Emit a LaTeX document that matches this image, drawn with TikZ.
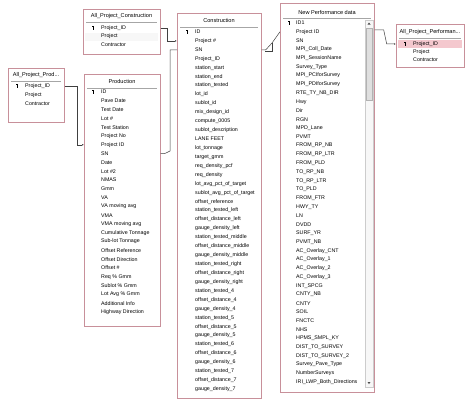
\documentclass[tikz,border=0pt]{standalone}
\usepackage{fontspec}
\setmainfont{Liberation Sans}
\usetikzlibrary{arrows.meta}
\definecolor{bord}{HTML}{C8909A}
\definecolor{hl}{HTML}{F4C8CE}
\tikzset{
  x=1pt,y=-1pt,
  tbox/.style={draw=bord,line width=0.7pt,fill=white},
  ttl/.style={font=\fontsize{5.6}{6.5}\selectfont,inner sep=0pt,anchor=center},
  row/.style={font=\fontsize{5.3}{6}\selectfont,inner sep=0pt,anchor=west},
  sep/.style={draw=gray!70,line width=0.5pt},
  conn/.style={draw=black!75,line width=0.5pt},
  tip/.style={-{Latex[length=2pt,width=1.6pt]}}
}
\newcommand{\keyat}[2]{\fill (#1-0.9,#2-2) rectangle (#1+0.9,#2-0.6); \draw[line width=0.5pt] (#1,#2-1) -- (#1,#2+2.2);}
\begin{document}
\begin{tikzpicture}
\useasboundingbox (0,0) rectangle (474,402);
% ---- All_Project_Prod
\node[tbox,minimum width=56pt,minimum height=54pt,anchor=north west,inner sep=0pt] (app) at (8,68) {};
\node[ttl] (appt) at (36,75) {All\_Project\_Prod...};
\draw[sep] (11,81) -- (61,81);
\foreach \t [count=\i from 0] in {Project\_ID,Project,Contractor}
  \node[row] (app\i) at (25,86+9*\i) {\t};
\keyat{17}{86}
% ---- All_Project_Construction
\node[tbox,minimum width=77pt,minimum height=45pt,anchor=north west,inner sep=0pt] (apc) at (83,9) {};
\node[ttl] (apct) at (121.5,16) {All\_Project\_Construction};
\draw[sep] (86,22) -- (157,22);
\fill[gray!6] (85,33) rectangle (158,41);
\foreach \t [count=\i from 0] in {Project\_ID,Project,Contractor}
  \node[row] (apc\i) at (101,28+8.5*\i) {\t};
\keyat{93}{28}
% ---- Production
\node[tbox,minimum width=76pt,minimum height=252pt,anchor=north west,inner sep=0pt] (prod) at (84,74) {};
\node[ttl] (prodt) at (122,81) {Production};
\draw[sep] (87,88) -- (157,88);
\foreach \t [count=\i from 0] in {ID,Pave Date,Test Date,Lot \#,Test Station,Project No,Project ID,SN,Date,Lot \#2,NMAS,Gmm,VA,VA moving avg,VMA,VMA moving avg,Cumulative Tonnage,Sub-lot Tonnage,Offset Reference,Offset Direction,Offset \#,Req \% Gmm,Sublot \% Gmm,Lot Avg \% Gmm,Additional Info,Highway Direction}
  \node[row] (prod\i) at (101,92+8.8*\i) {\t};
\keyat{93}{92}
% ---- Construction
\node[tbox,minimum width=84pt,minimum height=385pt,anchor=north west,inner sep=0pt] (con) at (177,13) {};
\node[ttl] (cont) at (219,20) {Construction};
\draw[sep] (180,27) -- (258,27);
\foreach \t [count=\i from 0] in {ID,Project \#,SN,Project\_ID,station\_start,station\_end,station\_tested,lot\_id,sublot\_id,mix\_design\_id,compute\_0005,sublot\_description,LANE FEET,lot\_tonnage,target\_gmm,req\_density\_pcf,req\_density,lot\_avg\_pct\_of\_target,sublot\_avg\_pct\_of\_target,offset\_reference,station\_tested\_left,offset\_distance\_left,gauge\_density\_left,station\_tested\_middle,offset\_distance\_middle,gauge\_density\_middle,station\_tested\_right,offset\_distance\_right,gauge\_density\_right,station\_tested\_4,offset\_distance\_4,gauge\_density\_4,station\_tested\_5,offset\_distance\_5,gauge\_density\_5,station\_tested\_6,offset\_distance\_6,gauge\_density\_6,station\_tested\_7,offset\_distance\_7,gauge\_density\_7}
  \node[row] (con\i) at (195,32+8.93*\i) {\t};
\keyat{187}{32}
% ---- New Performance data
\node[tbox,minimum width=94pt,minimum height=389pt,anchor=north west,inner sep=0pt] (npd) at (280,3) {};
\node[ttl] (npdt) at (327,12) {New Performance data};
\draw[sep] (283,18) -- (371,18);
\draw[gray!40,fill=gray!6,line width=0.3pt] (365,20) rectangle (373,387);
\draw[gray!60,fill=gray!25,line width=0.3pt] (366,28) rectangle (372,100);
\fill[black!70] (367.5,24.5) -- (370.5,24.5) -- (369,22.5) -- cycle;
\fill[black!70] (367.5,382) -- (370.5,382) -- (369,384) -- cycle;
\foreach \t [count=\i from 0] in {ID1,Project ID,SN,MPI\_Coll\_Date,MPI\_SessionName,Survey\_Type,MPI\_PCIforSurvey,MPI\_PDIforSurvey,RTE\_TY\_NB\_DIR,Hwy,Dir,RGN,MPD\_Lane,PVMT,FROM\_RP\_NB,FROM\_RP\_LTR,FROM\_PLD,TO\_RP\_NB,TO\_RP\_LTR,TO\_PLD,FROM\_FTR,HWY\_TY,LN,DVDD,SURF\_YR,PVMT\_NB,AC\_Overlay\_CNT,AC\_Overlay\_1,AC\_Overlay\_2,AC\_Overlay\_3,INT\_SPCG,CNTY\_NB,CNTY,SOIL,FNCTC,NHS,HPMS\_SMPL\_KY,DIST\_TO\_SURVEY,DIST\_TO\_SURVEY\_2,Survey\_Pave\_Type,NumberSurveys,IRI\_LWP\_Both\_Directions}
  \node[row] (npd\i) at (296,23+8.76*\i) {\t};
\keyat{289}{23}
% ---- All_Project_Performance
\node[tbox,minimum width=68pt,minimum height=43pt,anchor=north west,inner sep=0pt] (apf) at (396,24) {};
\node[ttl] (apft) at (430,32) {All\_Project\_Performan...};
\draw[sep] (399,38) -- (461,38);
\fill[hl] (398,40) rectangle (462,48);
\foreach \t [count=\i from 0] in {Project\_ID,Project,Contractor}
  \node[row] (apf\i) at (413,44+8*\i) {\t};
\keyat{405}{44}
% ---- connectors
\coordinate (c1) at (prod.west |- prod6);
\draw[conn,tip] (app.east |- app0) -- ++(13,0) |- (c1);
\coordinate (c2) at (con.west |- con1);
\draw[conn,tip] (apc.east |- apc0) -- ++(7,0) |- (c2);
\coordinate (c3) at (con.west |- con2);
\draw[conn] (prod.east |- prod7) -- ++(4,0) -- (170,151) |- (c3);
\coordinate (c4) at (npd.west |- npd1);
\draw[conn] (con.east |- con2) -- ++(4,0) -- (272,43) -- (c4);
\draw[conn] (272,43) -- (272,51) -- (265,51);
\coordinate (c5) at (apf.west |- apf0);
\draw[conn,tip] (npd.east |- npd1) ++(0,-1.8) -- ++(9,0) -- ++(3,14) -- (c5);
\end{tikzpicture}
\end{document}
